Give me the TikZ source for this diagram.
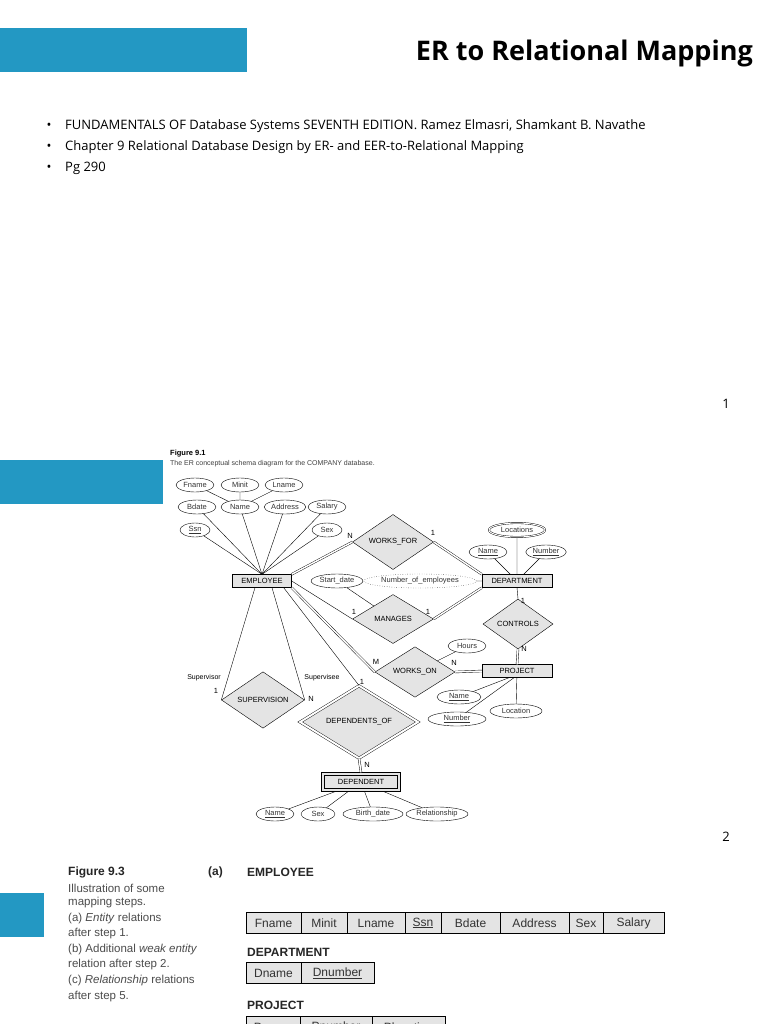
\documentclass[tikz,border=0pt]{standalone}
\usepackage{fontspec}
\setmainfont{Open Sans}
\newfontfamily\fig{Liberation Sans}
\usetikzlibrary{shapes.geometric}
\definecolor{hb}{HTML}{2398C3}
\definecolor{ef}{HTML}{E4E4E4}
\begin{document}
\begin{tikzpicture}[x=1pt,y=-1pt,
 attr/.style={ellipse,draw,fill=white,inner xsep=1pt,inner ysep=0pt,minimum height=14,minimum width=38,font=\fig\fontsize{7.5}{8}\selectfont,text=black!80},
 ent/.style={draw,fill=ef,minimum width=70,minimum height=13,inner sep=0,font=\fig\fontsize{7.5}{8}\selectfont},
 rel/.style={diamond,draw,fill=ef,inner sep=0,minimum width=81,minimum height=49,font=\fig\fontsize{7.5}{8}\selectfont},
 dbl/.style={double,double distance=1.5pt},
 card/.style={font=\fig\fontsize{7.5}{8}\selectfont,inner sep=0},
 cell/.style={draw,fill=ef,minimum height=21,inner sep=0,font=\fig\fontsize{12}{14}\selectfont,text=black!80},
 ftxt/.style={anchor=west,inner sep=0,font=\fig\fontsize{11.5}{13}\selectfont,text=black!70},
 bul/.style={anchor=west,inner sep=0,font=\fontsize{13}{15}\selectfont}]
\useasboundingbox (0,0) rectangle (768,1024);
\fill[white] (0,0) rectangle (768,1024);
% header
\fill[hb] (0,28) rectangle (247,72);
\node[anchor=east,inner sep=0,font=\bfseries\fontsize{27}{30}\selectfont] (title) at (753,53) {ER to Relational Mapping};
\foreach \yy/\t [count=\i] in {126/{FUNDAMENTALS OF Database Systems SEVENTH EDITION. Ramez Elmasri, Shamkant B. Navathe},147/{Chapter 9 Relational Database Design by ER- and EER-to-Relational Mapping},168/{Pg 290}}{
 \node[inner sep=0,font=\fontsize{13}{15}\selectfont] (b\i) at (49,\yy) {•};
 \node[bul] (bt\i) at (65,\yy) {\t};}
\node[inner sep=0,font=\fontsize{13}{15}\selectfont] (p1) at (726,404) {1};
\node[inner sep=0,font=\fontsize{13}{15}\selectfont] (p2) at (726,837) {2};
\fill[hb] (0,460) rectangle (163,504);
\fill[hb] (0,893) rectangle (44,937);
% figure 9.1
\node[anchor=west,inner sep=0,font=\fig\bfseries\fontsize{7.5}{8}\selectfont] (f91) at (170,454) {Figure 9.1};
\node[anchor=west,inner sep=0,font=\fig\fontsize{7}{8}\selectfont,text=black!75] (c91) at (170,464) {The ER conceptual schema diagram for the COMPANY database.};
\node[ent,minimum width=59] (emp) at (262,581) {EMPLOYEE};
\node[ent] (dep) at (517,581) {DEPARTMENT};
\node[ent] (proj) at (517,671) {PROJECT};
\node[ent,minimum width=79,minimum height=19] (dpt) at (361,782) {};
\node[ent,minimum width=73,minimum height=13] (dpti) at (361,782) {DEPENDENT};
\node[rel] (wf) at (393,542) {WORKS\_FOR};
\node[rel] (man) at (393,619) {MANAGES};
\node[rel,minimum width=70,minimum height=50] (con) at (518,624) {CONTROLS};
\node[rel,minimum width=80,minimum height=47] (won) at (415,672) {WORKS\_ON};
\node[rel,minimum width=83,minimum height=47] (sup) at (263,700) {SUPERVISION};
\node[rel,minimum width=118,minimum height=72,double,double distance=2pt] (dof) at (359,722) {DEPENDENTS\_OF};
% attributes
\node[attr] (fn) at (195,485) {Fname};
\node[attr] (mi) at (240,485) {Minit};
\node[attr] (ln) at (284,485) {Lname};
\node[attr] (bd) at (197,507) {Bdate};
\node[attr] (nm) at (240,507) {Name};
\node[attr] (ad) at (285,507) {Address};
\node[attr] (sa) at (327,507) {Salary};
\node[attr,minimum width=30] (ssn) at (195,530) {\underline{Ssn}};
\node[attr,minimum width=30] (sx) at (327,530) {Sex};
\node[attr] (sd) at (337,581) {Start\_date};
\node[attr,dotted] (noe) at (420,581) {Number\_of\_employees};
\node[attr,double,double distance=1pt,minimum width=56] (loc) at (517,530) {Locations};
\node[attr] (dn) at (488,552) {\underline{Name}};
\node[attr] (dnum) at (546,552) {\underline{Number}};
\node[attr] (hr) at (467,646) {Hours};
\node[attr,minimum width=44] (pn) at (459,697) {\underline{Name}};
\node[attr,minimum width=58] (pnum) at (457,719) {\underline{Number}};
\node[attr,minimum width=52] (ploc) at (516,711) {Location};
\node[attr] (dname) at (275,814) {\underline{Name}};
\node[attr,minimum width=34] (dsex) at (318,814) {Sex};
\node[attr,minimum width=60] (dbd) at (373,814) {Birth\_date};
\node[attr,minimum width=62] (drel) at (437,814) {Relationship};
% attribute lines
\draw (nm)--(fn) (nm)--(mi) (nm)--(ln);
\foreach \a in {bd,nm,ad,sa,ssn,sx} \draw (\a)--(emp.north);
\draw (sd)--(man) (noe)--(dep) (loc)--(dep) (dn)--(dep) (dnum)--(dep) (hr)--(won);
\draw (pn)--([xshift=-8pt]proj.south) (pnum)--([xshift=-3pt]proj.south) (ploc)--(proj);
\foreach \a in {dname,dsex,dbd,drel} \draw (\a)--(dpt);
% relationships
\draw[dbl] (emp.north east)--(wf.west);
\draw[dbl] (wf.east)--(dep.north west);
\draw (emp.east)--(man.west);
\draw[dbl] (man.east)--(dep.south west);
\draw (dep.south)--(con.north);
\draw[dbl] (con.south)--(proj.north);
\draw[dbl] (emp.south east)--(won.west);
\draw[dbl] (won.east)--(proj.west);
\draw ([xshift=10pt]emp.south)--(sup.east);
\draw ([xshift=-7pt]emp.south)--(sup.west);
\draw ([xshift=-8pt]emp.south east)--(dof.north);
\draw[dbl] (dof.south)--(dpt.north);
% cardinalities
\node[card] (c1) at (350,536) {N};
\node[card] (c2) at (433,533) {1};
\node[card] (c3) at (354,612) {1};
\node[card] (c4) at (428,612) {1};
\node[card] (c5) at (523,601) {1};
\node[card] (c6) at (524,649) {N};
\node[card] (c7) at (376,662) {M};
\node[card] (c8) at (454,663) {N};
\node[card] (c9) at (216,691) {1};
\node[card] (c10) at (311,699) {N};
\node[card] (c11) at (362,682) {1};
\node[card] (c12) at (367,765) {N};
\node[card,font=\fig\fontsize{7}{8}\selectfont] (l1) at (204,678) {Supervisor};
\node[card,font=\fig\fontsize{7}{8}\selectfont] (l2) at (322,678) {Supervisee};
% figure 9.3
\node[ftxt,font=\fig\bfseries\fontsize{12}{14}\selectfont,text=black!85] (f93) at (68,872) {Figure 9.3};
\node[ftxt,font=\fig\bfseries\fontsize{12}{14}\selectfont,text=black!85] (fa) at (208,872) {(a)};
\foreach \yy/\t [count=\i] in {888/{Illustration of some},903/{mapping steps.},919/{(a) \textit{Entity} relations},934/{after step 1.},950/{(b) Additional \textit{weak entity}},965/{relation after step 2.},981/{(c) \textit{Relationship} relations},997/{after step 5.}}
 \node[ftxt] (ft\i) at (68,\yy) {\t};
\node[ftxt,font=\fig\bfseries\fontsize{12}{14}\selectfont,text=black!85] (te) at (247,872) {EMPLOYEE};
\node[ftxt,font=\fig\bfseries\fontsize{12}{14}\selectfont,text=black!85] (td) at (247,952) {DEPARTMENT};
\node[ftxt,font=\fig\bfseries\fontsize{12}{14}\selectfont,text=black!85] (tp) at (247,1005) {PROJECT};
\foreach \a/\b/\t [count=\i] in {246/301/Fname,301/347/Minit,347/405/Lname,405/441/\underline{Ssn},441/500/Bdate,500/569/Address,569/603/Sex,603/664/Salary}
 \node[cell,minimum width=\b-\a] (e\i) at ({(\a+\b)/2},923) {\t};
\foreach \a/\b/\t [count=\i] in {246/301/Dname,301/374/\underline{Dnumber}}
 \node[cell,minimum width=\b-\a] (d\i) at ({(\a+\b)/2},973) {\t};
\foreach \a/\b/\t [count=\i] in {246/300/Pname,300/372/\underline{Pnumber},372/445/Plocation}
 \node[cell,minimum width=\b-\a] (q\i) at ({(\a+\b)/2},1027) {\t};
\end{tikzpicture}
\end{document}
